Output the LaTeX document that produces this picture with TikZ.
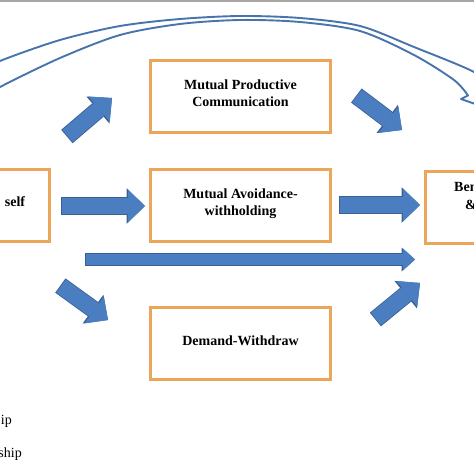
\documentclass[tikz,border=0pt]{standalone}
\usepackage{fontspec}
\setmainfont{Liberation Serif}
\usetikzlibrary{arrows.meta}

\definecolor{boxorange}{RGB}{236,166,90}
\definecolor{arrowblue}{RGB}{74,126,193}
\definecolor{arrowedge}{RGB}{58,96,148}
\definecolor{curveblue}{RGB}{72,116,172}
\definecolor{topgray}{RGB}{166,166,166}

\begin{document}
\begin{tikzpicture}[x=1pt,y=-1pt,
  box/.style={rectangle,draw=boxorange,line width=3pt,fill=white,minimum width=180pt,
    minimum height=72pt,align=center,text depth=5pt,font=\fontsize{14}{17}\selectfont\bfseries},
  boxtext/.style={inner sep=0pt,font=\fontsize{14}{17}\selectfont\bfseries},
  legend/.style={inner sep=0pt,font=\fontsize{14}{17}\selectfont},
  blockarrow/.style={arrowblue,line width=16pt,-{Triangle[width=33pt,length=17pt,line width=0pt]},
    preaction={draw=arrowedge,line width=17.6pt,shorten <=-0.8pt,
      -{Triangle[width=35.5pt,length=18.5pt,line width=0pt]}}},
  longarrow/.style={arrowblue,line width=11pt,-{Triangle[width=22pt,length=12pt,line width=0pt]},
    preaction={draw=arrowedge,line width=12.4pt,shorten <=-0.7pt,
      -{Triangle[width=24pt,length=13.4pt,line width=0pt]}}},
  curvearrow/.style={draw=curveblue,line width=1.9pt,line join=round}]

  \useasboundingbox (0,0) rectangle (474,474);
  \clip (0,0) rectangle (474,474);
  \fill[topgray] (0,0) rectangle (474,2.3);

  % curved arrow over the top
  \draw[curvearrow] plot[smooth] coordinates {(-20,73) (0,61) (60,40) (120,26) (180,19)
      (240,16) (300,18) (360,26) (414,47) (474,72) (486,86.4)}
    -- (492.3,83.3) -- (484.6,107.3) -- (461,99) -- (468,95.5)
    -- plot[smooth] coordinates {(468,95.5) (454,80) (414,55) (360,31) (300,22) (240,20)
      (180,24) (120,35) (60,58) (0,87) (-20,100)};

  \node[box] (prodcomm) at (240.5,96) {Mutual Productive\\Communication};
  \node[box,text depth=7pt] (avoidwh) at (240.5,205.5) {Mutual Avoidance-\\withholding};
  \node[box] (demwd) at (240.5,343.5) {Demand-Withdraw};
  \node[box] (selfbox) at (-41,205.5) {};
  \node[box] (outbox) at (515.5,207.5) {};

  \node[boxtext] (selftext) at (15,202) {self};
  \node[boxtext,anchor=west] (bentext) at (454,187) {Ben};
  \node[boxtext,anchor=west] (amptext) at (465,205) {\&};

  \coordinate (a1s) at (67.5,136);  \coordinate (a1e) at (112,98);
  \coordinate (a2s) at (357,96);    \coordinate (a2e) at (402,130);
  \coordinate (a3s) at (62,206);    \coordinate (a3e) at (145,206);
  \coordinate (a4s) at (340,205);   \coordinate (a4e) at (420,205);
  \coordinate (a5s) at (86,259.5);  \coordinate (a5e) at (415,259.5);
  \coordinate (a6s) at (61,286);    \coordinate (a6e) at (108,320);
  \coordinate (a7s) at (376,319);   \coordinate (a7e) at (420,283);

  \draw[blockarrow] (a1s) -- (a1e);
  \draw[blockarrow] (a2s) -- (a2e);
  \draw[blockarrow] (a3s) -- (a3e);
  \draw[blockarrow] (a4s) -- (a4e);
  \draw[longarrow] (a5s) -- (a5e);
  \draw[blockarrow] (a6s) -- (a6e);
  \draw[blockarrow] (a7s) -- (a7e);

  \node[legend,anchor=base east] (leg1) at (12,424) {ip};
  \node[legend,anchor=base east] (leg2) at (22,457) {ship};

\end{tikzpicture}
\end{document}
